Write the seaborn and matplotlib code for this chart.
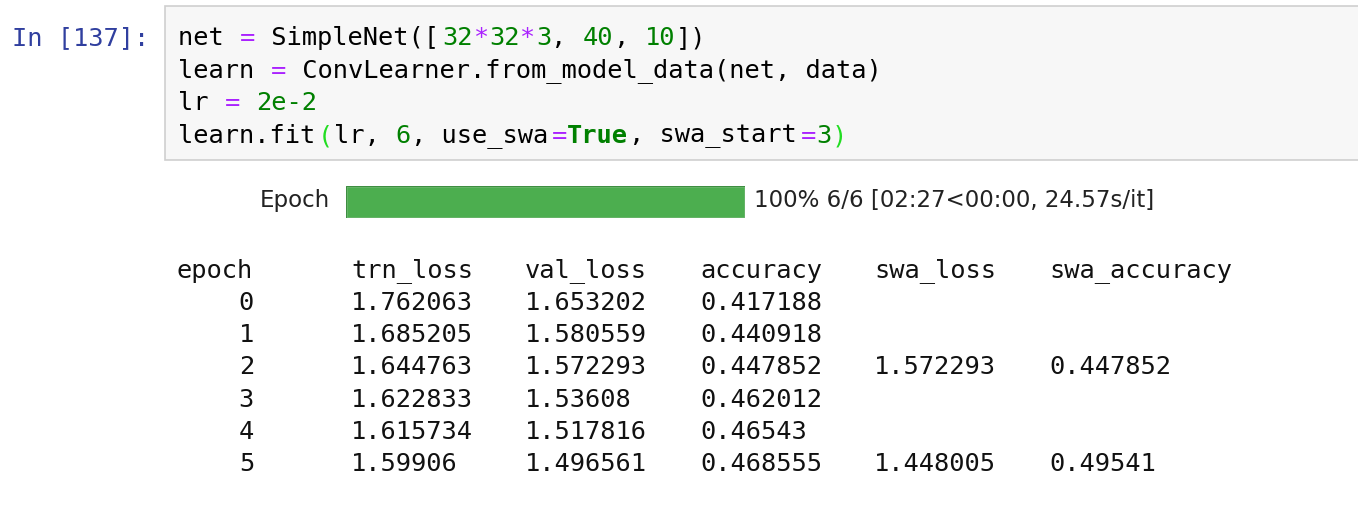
import matplotlib
matplotlib.use("Agg")
import matplotlib.pyplot as plt
import seaborn as sns
from matplotlib.patches import Rectangle

sns.set_theme(style="white")
plt.rcParams['font.family'] = ['DejaVu Sans']

columns = ["epoch", "trn_loss", "val_loss", "accuracy", "swa_loss", "swa_accuracy"]
epochs = ["0", "1", "2", "3", "4", "5"]
trn_loss = ["1.762063", "1.685205", "1.644763", "1.622833", "1.615734", "1.59906"]
val_loss = ["1.653202", "1.580559", "1.572293", "1.53608", "1.517816", "1.496561"]
accuracy = ["0.417188", "0.440918", "0.447852", "0.462012", "0.46543", "0.468555"]
swa_loss = ["", "", "1.572293", "", "", "1.448005"]
swa_accuracy = ["", "", "0.447852", "", "", "0.49541"]
progress_pct = [100]
progress_text = "100% 6/6 [02:27<00:00, 24.57s/it]"

fig = plt.figure(figsize=(13.58, 5.29), dpi=100)
ax = fig.add_axes([0, 0, 1, 1])
ax.set_xlim(0, 1358); ax.set_ylim(529, 0); ax.axis("off")

MONO = "DejaVu Sans Mono"
FS = 18.3
CW = 15.56
P, G, K = "#aa22ff", "#008000", "#000000"

ax.add_patch(Rectangle((165, 6), 1200, 154, facecolor="#f7f7f7", edgecolor="#cfcfcf", lw=1.2))
ax.text(12, 38, "In [137]:", family=MONO, fontsize=FS, color="#303f9f", va="center")

code = [
    [("net ", K), ("=", P), (" SimpleNet([", K), ("32", G), ("*", P), ("32", G), ("*", P), ("3", G), (", ", K), ("40", G), (", ", K), ("10", G), ("])", K)],
    [("learn ", K), ("=", P), (" ConvLearner.from_model_data(net, data)", K)],
    [("lr ", K), ("=", P), (" ", K), ("2e-2", G)],
    [("learn.fit", K), ("(", "#22dd22"), ("lr, ", K), ("6", G), (", use_swa", K), ("=", P), ("True", G, "bold"), (", swa_start", K), ("=", P), ("3", G), (")", "#22dd22")],
]
for i, line in enumerate(code):
    col = 0
    y = 38 + i * 32.7
    for tok in line:
        t, c = tok[0], tok[1]
        w = tok[2] if len(tok) > 2 else "normal"
        ax.text(178 + col * CW, y, t, family=MONO, fontsize=FS, color=c, va="center", fontweight=w)
        col += len(t)

ax.text(260, 201, "Epoch", fontsize=16.5, color="#222222", va="center")
ax.text(754, 201, progress_text, fontsize=16.5, color="#222222", va="center")
bax = fig.add_axes([346 / 1358, 1 - 218 / 529, 399 / 1358, 32 / 529])
sns.barplot(x=progress_pct, y=[0], orient="h", color="#4cae4f", saturation=1, width=1, ax=bax)
bax.set_xlim(0, 100); bax.set_axis_off()
bax.add_patch(Rectangle((0, -0.5), 100, 1, fill=False, edgecolor="#3e8e41", lw=1))

col_x = [176, 351, 525, 700, 874, 1049]
for x, name in zip(col_x, columns):
    ax.text(x, 271, name, family=MONO, fontsize=FS, color="#111111", va="center")
data_cols = [trn_loss, val_loss, accuracy, swa_loss, swa_accuracy]
for r in range(len(epochs)):
    y = 303 + r * 32.2
    ax.text(254, y, epochs[r], family=MONO, fontsize=FS, color="#111111", va="center", ha="right")
    for x, vals in zip(col_x[1:], data_cols):
        ax.text(x, y, vals[r], family=MONO, fontsize=FS, color="#111111", va="center")

fig.savefig("out.png", dpi=100, facecolor="white")
